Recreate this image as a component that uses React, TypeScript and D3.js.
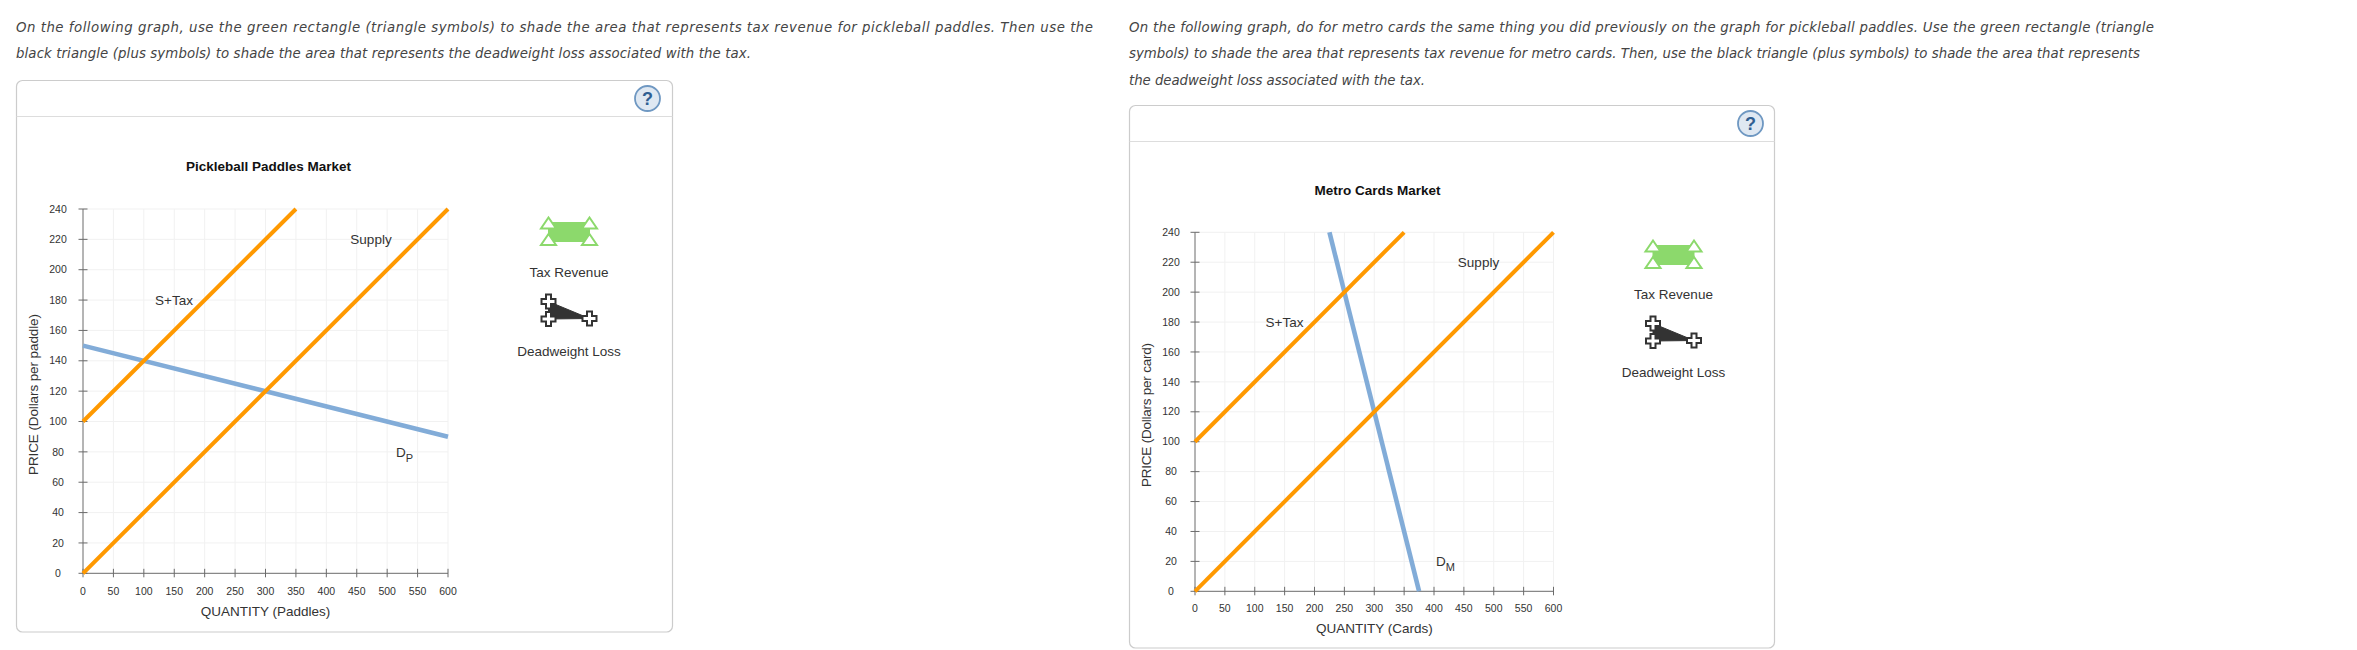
import React from "react";
import * as d3 from "d3";

// ---- data ----
const quantityTicks = [0, 50, 100, 150, 200, 250, 300, 350, 400, 450, 500, 550, 600];
const priceTicks = [0, 20, 40, 60, 80, 100, 120, 140, 160, 180, 200, 220, 240];
const supplyLine: [number, number][] = [[0, 0], [600, 240]];
const supplyTaxLine: [number, number][] = [[0, 100], [350, 240]];
const demandPaddles: [number, number][] = [[0, 150], [600, 90]];
const demandCards: [number, number][] = [[225, 240], [375, 0]];

const leftQuestion = [
  "On the following graph, use the green rectangle (triangle symbols) to shade the area that represents tax revenue for pickleball paddles. Then use the",
  "black triangle (plus symbols) to shade the area that represents the deadweight loss associated with the tax.",
];
const rightQuestion = [
  "On the following graph, do for metro cards the same thing you did previously on the graph for pickleball paddles. Use the green rectangle (triangle",
  "symbols) to shade the area that represents tax revenue for metro cards. Then, use the black triangle (plus symbols) to shade the area that represents",
  "the deadweight loss associated with the tax.",
];

// ---- styles ----
const SANS = "'Liberation Sans', Arial, sans-serif";
const ORANGE = "#ff9900";
const BLUE = "#82acd8";
const GRID = "#f1f1f1";
const AXIS = "#6b6b6b";
const TEXT = "#333333";
const GREEN = "#8cd96c";
const DARK = "#333333";

const lineGen = d3.line<[number, number]>();

type Layout = {
  title: string; xTitle: string; yTitle: string; demand: [number, number][]; demandMain: string; demandSub: string;
  px0: number; px1: number; py0: number; py1: number;
  panel: [number, number, number, number]; headerY: number; help: [number, number];
  titlePos: [number, number]; supplyPos: [number, number]; taxPos: [number, number]; demandPos: [number, number];
  yTickX: number; yTitlePos: [number, number]; yTitleLen: number; xTickY: number; xTitleY: number; xTitleX: number;
  legendX: number; revenueY: number; revenueText: number; lossY: number; lossText: number;
};

const Cross = ({ x, y }: { x: number; y: number }) => {
  const d = `M${x - 2.5},${y - 7}h5v4.5h4.5v5h-4.5v4.5h-5v-4.5h-4.5v-5h4.5z`;
  return <path d={d} fill="#fff" stroke={DARK} strokeWidth={2} />;
};
const Tri = ({ x, y }: { x: number; y: number }) => (
  <path d={`M${x},${y - 6}L${x + 7.5},${y + 5}H${x - 7.5}Z`} fill="#fff" stroke={GREEN} strokeWidth={2} />
);

function Market({ c }: { c: Layout }) {
  const x = d3.scaleLinear().domain([0, 600]).range([c.px0, c.px1]);
  const y = d3.scaleLinear().domain([0, 240]).range([c.py0, c.py1]);
  const pts = (a: [number, number][]) => a.map(([q, p]) => [x(q), y(p)] as [number, number]);
  const [L, T, R, B] = c.panel;
  const lx = c.legendX;
  return (
    <g>
      <rect x={L} y={T} width={R - L} height={B - T} rx={6} fill="#fff" stroke="#cccccc" strokeWidth={1.2} />
      <line x1={L} x2={R} y1={c.headerY} y2={c.headerY} stroke="#dddddd" strokeWidth={1} />
      <circle cx={c.help[0]} cy={c.help[1]} r={12.5} fill="#dfe8f2" stroke="#6f98c2" strokeWidth={1.8} />
      <text x={c.help[0]} y={c.help[1] + 6.5} textAnchor="middle" fontFamily={SANS} fontWeight="bold" fontSize={18} fill="#2f5f92">?</text>

      <text x={c.titlePos[0]} y={c.titlePos[1]} dy="0.35em" textAnchor="middle" fontFamily={SANS} fontWeight="bold" fontSize={13.5} fill="#111">{c.title}</text>

      {quantityTicks.slice(1).map((q) => (
        <line key={q} x1={x(q)} x2={x(q)} y1={c.py0} y2={c.py1} stroke={GRID} strokeWidth={1} />
      ))}
      {priceTicks.slice(1).map((p) => (
        <line key={p} x1={c.px0} x2={c.px1} y1={y(p)} y2={y(p)} stroke={GRID} strokeWidth={1} />
      ))}
      <line x1={c.px0} x2={c.px0} y1={c.py0} y2={c.py1} stroke={AXIS} strokeWidth={1} />
      <line x1={c.px0} x2={c.px1} y1={c.py0} y2={c.py0} stroke={AXIS} strokeWidth={1} />
      {quantityTicks.map((q) => (
        <g key={q}>
          <line x1={x(q)} x2={x(q)} y1={c.py0 - 4.5} y2={c.py0 + 4} stroke={AXIS} strokeWidth={1} />
          <text x={x(q)} y={c.xTickY} dy="0.35em" textAnchor="middle" fontFamily={SANS} fontSize={10.5} fill={TEXT}>{q}</text>
        </g>
      ))}
      {priceTicks.map((p) => (
        <g key={p}>
          <line x1={c.px0 - 4.5} x2={c.px0 + 4.5} y1={y(p)} y2={y(p)} stroke={AXIS} strokeWidth={1} />
          <text x={c.yTickX} y={y(p)} dy="0.35em" textAnchor="middle" fontFamily={SANS} fontSize={10.5} fill={TEXT}>{p}</text>
        </g>
      ))}

      <path d={lineGen(pts(c.demand)) ?? ""} fill="none" stroke={BLUE} strokeWidth={4.6} />
      <path d={lineGen(pts(supplyLine)) ?? ""} fill="none" stroke={ORANGE} strokeWidth={4} />
      <path d={lineGen(pts(supplyTaxLine)) ?? ""} fill="none" stroke={ORANGE} strokeWidth={4} />

      <text x={c.supplyPos[0]} y={c.supplyPos[1]} dy="0.35em" textAnchor="middle" fontFamily={SANS} fontSize={13.5} fill={TEXT}>Supply</text>
      <text x={c.taxPos[0]} y={c.taxPos[1]} dy="0.35em" textAnchor="middle" fontFamily={SANS} fontSize={13.5} fill={TEXT}>S+Tax</text>
      <text x={c.demandPos[0]} y={c.demandPos[1]} dy="0.35em" fontFamily={SANS} fontSize={13.5} fill={TEXT}>
        {c.demandMain}
        <tspan dy="5" fontSize={11}>{c.demandSub}</tspan>
      </text>

      <text x={c.xTitleX} y={c.xTitleY} dy="0.35em" textAnchor="middle" fontFamily={SANS} fontSize={13.5} fill={TEXT}>{c.xTitle}</text>
      <text transform={`translate(${c.yTitlePos[0]},${c.yTitlePos[1]}) rotate(-90)`} dy="0.35em" textAnchor="middle" fontFamily={SANS} fontSize={13.5} textLength={c.yTitleLen} lengthAdjust="spacing" fill={TEXT}>{c.yTitle}</text>

      {/* legend */}
      <rect x={lx - 21} y={c.revenueY} width={42} height={20} fill={GREEN} />
      <Tri x={lx - 20.5} y={c.revenueY + 1.5} />
      <Tri x={lx + 20.5} y={c.revenueY + 1.5} />
      <Tri x={lx - 20.5} y={c.revenueY + 18} />
      <Tri x={lx + 20.5} y={c.revenueY + 18} />
      <text x={lx} y={c.revenueText} dy="0.35em" textAnchor="middle" fontFamily={SANS} fontSize={13.5} fill={TEXT}>Tax Revenue</text>

      <path d={`M${lx - 20.5},${c.lossY}L${lx + 20.5},${c.lossY + 17}L${lx - 20.5},${c.lossY + 17.5}Z`} fill={DARK} stroke={DARK} strokeWidth={1} />
      <Cross x={lx - 20.5} y={c.lossY} />
      <Cross x={lx - 20.5} y={c.lossY + 17.5} />
      <Cross x={lx + 20.5} y={c.lossY + 17} />
      <text x={lx} y={c.lossText} dy="0.35em" textAnchor="middle" fontFamily={SANS} fontSize={13.5} fill={TEXT}>Deadweight Loss</text>
    </g>
  );
}

const leftLayout: Layout = {
  title: "Pickleball Paddles Market", xTitle: "QUANTITY (Paddles)", yTitle: "PRICE (Dollars per paddle)",
  demand: demandPaddles, demandMain: "D", demandSub: "P",
  px0: 83, px1: 448, py0: 573.3, py1: 209,
  panel: [16.5, 80.5, 672.5, 632], headerY: 116.5, help: [647.5, 98.5],
  titlePos: [268.5, 166], supplyPos: [371, 239], taxPos: [174, 300], demandPos: [396, 452],
  yTickX: 58, yTitlePos: [33.5, 394.5], yTitleLen: 161, xTickY: 591, xTitleY: 611, xTitleX: 265.5,
  legendX: 569, revenueY: 222, revenueText: 272, lossY: 301.5, lossText: 351,
};
const rightLayout: Layout = {
  title: "Metro Cards Market", xTitle: "QUANTITY (Cards)", yTitle: "PRICE (Dollars per card)",
  demand: demandCards, demandMain: "D", demandSub: "M",
  px0: 1195, px1: 1553.5, py0: 591.3, py1: 232.3,
  panel: [1129.5, 105.5, 1774.5, 648], headerY: 141.5, help: [1750.5, 123.5],
  titlePos: [1377.5, 190], supplyPos: [1478.5, 262], taxPos: [1284.5, 322], demandPos: [1436, 561.7],
  yTickX: 1171, yTitlePos: [1146, 415], yTitleLen: 144, xTickY: 608, xTitleY: 628, xTitleX: 1374.5,
  legendX: 1673.5, revenueY: 245, revenueText: 294.3, lossY: 323.5, lossText: 372.3,
};

export default function App() {
  const question = (lines: string[], qx: number, ends: number[]) =>
    lines.map((s, i) => (
      <text key={i} x={qx} y={27 + i * 26.6} dy="0.35em" fontFamily="'DejaVu Sans', Verdana, sans-serif" fontStyle="italic" fontSize={13.3}
        fill="#444" textLength={ends[i] - qx} lengthAdjust="spacing">{s}</text>
    ));
  return (
    <svg width={2357} height={650} style={{ position: "absolute", left: 0, top: 0, display: "block", background: "#fff" }}>
      {question(leftQuestion, 16, [1093, 751])}
      {question(rightQuestion, 1129, [2154, 2140, 1425])}
      <Market c={leftLayout} />
      <Market c={rightLayout} />
    </svg>
  );
}
